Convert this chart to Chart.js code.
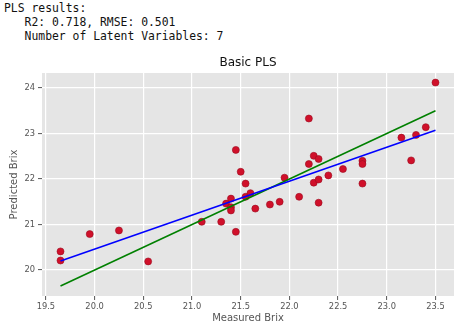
<!DOCTYPE html>
<html>
<head>
<meta charset="utf-8">
<script src="https://cdn.jsdelivr.net/npm/chart.js@4/dist/chart.umd.min.js"></script>
<style>
  html, body { margin: 0; padding: 0; background: #fff; }
  #wrap { position: relative; width: 474px; height: 334px; overflow: hidden; }
  #out {
    position: absolute; left: 4px; top: 1px; margin: 0;
    font: 11.4px/14px "DejaVu Sans Mono", monospace; color: #111; white-space: pre;
  }
  canvas { position: absolute; left: 0; top: 0; }
</style>
</head>
<body>
<div id="wrap">
<pre id="out">PLS results:
   R2: 0.718, RMSE: 0.501
   Number of Latent Variables: 7</pre>
<canvas id="c" width="474" height="334"></canvas>
</div>
<script>
// ── data ──
const measured  = [19.65, 19.65, 19.95, 20.25, 20.55, 21.10, 21.30, 21.35, 21.40, 21.40,
                   21.40, 21.45, 21.45, 21.50, 21.55, 21.55, 21.60, 21.65, 21.80, 21.90,
                   21.95, 22.10, 22.20, 22.20, 22.25, 22.30, 22.25, 22.30, 22.30, 22.40,
                   22.55, 22.75, 22.75, 22.75, 23.15, 23.25, 23.30, 23.40, 23.50];
const predicted = [20.41, 20.21, 20.79, 20.87, 20.19, 21.06, 21.06, 21.46, 21.57, 21.38,
                   21.31, 20.84, 22.64, 22.16, 21.90, 21.61, 21.69, 21.35, 21.44, 21.50,
                   22.03, 21.61, 23.33, 22.33, 22.51, 22.44, 21.92, 21.99, 21.48, 22.08,
                   22.22, 22.40, 22.33, 21.90, 22.91, 22.41, 22.97, 23.14, 24.12];

// fitted line (blue) and 1:1 line (green), end points
const fitX   = [19.65, 23.50];
const fitY   = [20.20, 23.07];
const idealX = [19.65, 23.50];
const idealY = [19.65, 23.50];

const xTicks = [19.5, 20.0, 20.5, 21.0, 21.5, 22.0, 22.5, 23.0, 23.5];
const yTicks = [20, 21, 22, 23, 24];

const toPoints = (xs, ys) => xs.map((x, i) => ({ x: x, y: ys[i] }));

// grey panel behind the plot (ggplot look)
const panelBg = {
  id: 'panelBg',
  beforeDraw(chart) {
    const { ctx, chartArea: a } = chart;
    ctx.save();
    ctx.fillStyle = '#e5e5e5';
    ctx.fillRect(a.left, a.top, a.right - a.left, a.bottom - a.top);
    ctx.restore();
  }
};

const tickFont = { family: "'DejaVu Sans'", size: 8.3 };
const labelFont = { family: "'DejaVu Sans'", size: 10 };

new Chart(document.getElementById('c'), {
  type: 'scatter',
  data: {
    datasets: [
      {
        data: toPoints(fitX, fitY),
        showLine: true, borderColor: '#0000ff', borderWidth: 1.6,
        pointRadius: 0, order: 0
      },
      {
        data: toPoints(idealX, idealY),
        showLine: true, borderColor: '#008000', borderWidth: 1.6,
        pointRadius: 0, order: 1
      },
      {
        data: toPoints(measured, predicted),
        backgroundColor: '#d0102a', borderColor: '#9a0a1e', borderWidth: 0.6,
        pointRadius: 3.5, order: 2
      }
    ]
  },
  options: {
    responsive: false,
    animation: false,
    events: [],
    layout: { padding: { left: 0, right: 20, top: 0, bottom: 0 } },
    plugins: {
      legend: { display: false },
      tooltip: { enabled: false },
      title: {
        display: true, text: 'Basic PLS', fullSize: false,
        color: '#111', font: { family: "'DejaVu Sans'", size: 12, weight: 'normal' },
        padding: { top: 56, bottom: 2.6 }
      }
    },
    scales: {
      x: {
        type: 'linear', min: 19.46, max: 23.69,
        afterBuildTicks: (s) => { s.ticks = xTicks.map(v => ({ value: v })); },
        afterFit: (s) => { s.height = 38; },
        border: { display: false },
        grid: { color: '#ffffff', lineWidth: 1.2, tickColor: '#555555', tickLength: 4, tickWidth: 1 },
        ticks: { color: '#555555', font: tickFont, padding: 2, maxRotation: 0,
                 callback: (v) => Number(v).toFixed(1) },
        title: { display: true, text: 'Measured Brix', color: '#555555', font: labelFont,
                 padding: { top: 0, bottom: 10 } }
      },
      y: {
        type: 'linear', min: 19.43, max: 24.33,
        afterBuildTicks: (s) => { s.ticks = yTicks.map(v => ({ value: v })); },
        afterFit: (s) => { s.width = 42; },
        border: { display: false },
        grid: { color: '#ffffff', lineWidth: 1.2, tickColor: '#555555', tickLength: 4, tickWidth: 1 },
        ticks: { color: '#555555', font: tickFont, padding: 3,
                 callback: (v) => String(v) },
        title: { display: true, text: 'Predicted Brix', color: '#555555', font: labelFont,
                 padding: { top: 8, bottom: 0 } }
      }
    }
  },
  plugins: [panelBg]
});
</script>
</body>
</html>
